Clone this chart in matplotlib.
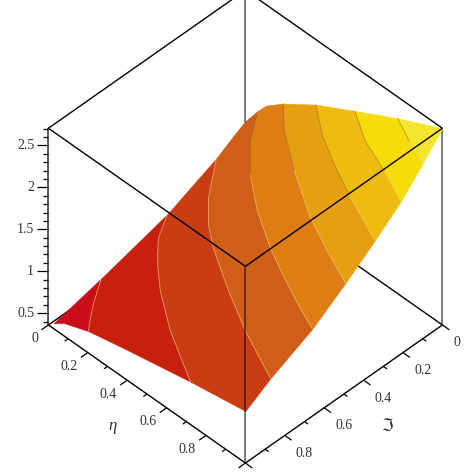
import matplotlib
matplotlib.use('Agg')
import matplotlib.pyplot as plt
from mpl_toolkits.mplot3d.art3d import Poly3DCollection

# contour levels of the surface, each line runs from the top edge to the front edge
levels = [0.62, 0.87, 1.16, 1.40, 1.67, 1.93, 2.18, 2.45]
c1_eta = [0.044, 0.114, 0.160, 0.203]
c1_im = [0.775, 0.885, 0.947, 1.0]
c2_eta = [0.055, 0.119, 0.207, 0.316, 0.487, 0.721]
c2_im = [0.451, 0.561, 0.654, 0.748, 0.868, 1.0]
c3_eta = [0.065, 0.190, 0.287, 0.383, 0.564, 0.765, 1.0]
c3_im = [0.212, 0.378, 0.475, 0.546, 0.655, 0.765, 0.873]
c4_eta = [0.072, 0.163, 0.286, 0.434, 0.601, 0.745, 0.895, 1.0]
c4_im = [0.010, 0.138, 0.261, 0.373, 0.474, 0.547, 0.616, 0.66]
c5_eta = [0.192, 0.295, 0.465, 0.663, 0.839, 1.0]
c5_im = [0.0, 0.097, 0.216, 0.338, 0.423, 0.492]
c6_eta = [0.358, 0.485, 0.624, 0.771, 1.0]
c6_im = [0.0, 0.094, 0.172, 0.243, 0.343]
c7_eta = [0.555, 0.692, 0.849, 1.0]
c7_im = [0.0, 0.083, 0.143, 0.211]
c8_eta = [0.772, 0.886, 1.0]
c8_im = [0.0, 0.054, 0.100]
contour_eta = [c1_eta, c2_eta, c3_eta, c4_eta, c5_eta, c6_eta, c7_eta, c8_eta]
contour_im = [c1_im, c2_im, c3_im, c4_im, c5_im, c6_im, c7_im, c8_im]
dark_part = [0, 0, 0, 3, 3, 4, 3, 2]

# surface corners and edge points (eta, im, z)
tip = (0.025, 1.0, 0.42)
far_corner = (1.0, 0.0, 2.705)
low_edge = [[(0.076, 1.0, 0.509)], [(0.381, 1.0, 0.711)], [(1.0, 1.0, 0.979)],
            [], [], [], [], [], []]
top_edge = [[], [], [], [(0.047, 0.047, 1.30), (0.057, 0.123, 1.25)],
            [(0.104, 0.0, 1.50)], [], [], [], []]

band_colors = ['#c80f1a', '#c7200f', '#c93d12', '#cf5f16', '#de7d14',
               '#e69f10', '#eebc10', '#f6dc08', '#f3e62c']

z_bottom = 0.36
z_top = 2.705
z_major = [0.5, 1, 1.5, 2, 2.5]
z_major_labels = ['0.5', '1', '1.5', '2', '2.5']
z_minor = [0.4, 0.6, 0.7, 0.8, 0.9, 1.1, 1.2, 1.3, 1.4, 1.6, 1.7, 1.8, 1.9,
           2.1, 2.2, 2.3, 2.4, 2.6, 2.7]
h_major = [0, 0.2, 0.4, 0.6, 0.8, 1]
h_major_labels = ['0', '0.2', '0.4', '0.6', '0.8', '']
h_minor = [0.1, 0.3, 0.5, 0.7, 0.9]

serif = 'Liberation Serif'

fig = plt.figure(figsize=(4.74, 4.74), dpi=100)
ax = fig.add_axes([2 / 474, 4 / 474, 1, 1], projection='3d',
                  proj_type='ortho', computed_zorder=False)
ax.view_init(elev=44.5, azim=45)
ax.set_box_aspect((1, 1, 0.99), zoom=0.985)
ax.set_axis_off()


def contour_points(i):
    return [(e, m, levels[i]) for e, m in zip(contour_eta[i], contour_im[i])]


def line3(p, q, zo, color='black', lw=1.0, alpha=1.0):
    # x axis is im, y axis is eta
    ax.plot([p[1], q[1]], [p[0], q[0]], [p[2], q[2]], color=color, lw=lw,
            alpha=alpha, zorder=zo, solid_capstyle='butt')


def text3(eta, im, z, s, **kw):
    ax.text(im, eta, z, s, color='#333333', zorder=4, **kw)


# surface, one polygon per colour band
for k in range(len(band_colors)):
    first = [tip] if k == 0 else contour_points(k - 1)
    second = [far_corner] if k == len(levels) else contour_points(k)
    pts = first + low_edge[k] + second[::-1] + top_edge[k]
    verts = [[(p[1], p[0], p[2]) for p in pts]]
    poly = Poly3DCollection(verts, facecolors=band_colors[k],
                            edgecolors=band_colors[k], linewidths=0.3, zorder=2)
    ax.add_collection3d(poly, autolim=False)

# band outlines, dark near the top and pale towards the front
for i in range(len(levels)):
    pts = contour_points(i)
    n = dark_part[i]
    if n > 0:
        ax.plot([p[1] for p in pts[:n]], [p[0] for p in pts[:n]], [p[2] for p in pts[:n]],
                color='#8a6a20', lw=0.5, alpha=0.7, zorder=2.5)
    rest = pts[max(n - 1, 0):]
    ax.plot([p[1] for p in rest], [p[0] for p in rest], [p[2] for p in rest],
            color='#f6c878', lw=0.5, alpha=0.8, zorder=2.5)

# back of the box, hidden by the surface
line3((0, 0, z_bottom), (0, 0, z_top), 1, alpha=0.6, lw=1.2)
line3((1, 0, z_bottom), (0, 0, z_bottom), 1)
line3((0, 1, z_bottom), (0, 0, z_bottom), 1)
line3((0, 1, z_top), (0, 0, z_top), 1)
line3((1, 0, z_top), (0, 0, z_top), 1)
line3((1, 0, z_bottom), (1, 0, z_top), 1, alpha=0.6, lw=1.2)

# front of the box, drawn over the surface
line3((0, 1, z_bottom), (0, 1, z_top), 3, alpha=0.75, lw=1.2)
line3((1, 1, z_bottom), (1, 1, z_top), 3, alpha=0.6, lw=1.2)
line3((0, 1, z_top), (1, 1, z_top), 3)
line3((1, 0, z_top), (1, 1, z_top), 3)
line3((0, 1, z_bottom), (1, 1, z_bottom), 3)
line3((1, 0, z_bottom), (1, 1, z_bottom), 3)

# z ticks
for v, lab in zip(z_major, z_major_labels):
    line3((0, 1, v), (-0.028, 1.028, v), 3, lw=0.9)
    text3(-0.036, 1.036, v, lab, ha='right', va='center', family=serif, fontsize=10)
for v in z_minor:
    line3((0, 1, v), (-0.014, 1.014, v), 3, lw=0.9)

# eta ticks
for v, lab in zip(h_major, h_major_labels):
    line3((v, 1, z_bottom), (v, 1.035, z_bottom), 3, lw=0.9)
    if lab:
        text3(v + 0.025, 1.076, z_bottom, lab, ha='right', va='center', family=serif, fontsize=10)
for v in h_minor:
    line3((v, 1, z_bottom), (v, 1.018, z_bottom), 3, lw=0.9)

# im ticks
for v, lab in zip(h_major, h_major_labels):
    line3((1, v, z_bottom), (1.035, v, z_bottom), 3, lw=0.9)
    if lab:
        text3(1.093, v + 0.037, z_bottom, lab, ha='left', va='center', family=serif, fontsize=10)
for v in h_minor:
    line3((1, v, z_bottom), (1.018, v, z_bottom), 3, lw=0.9)

text3(0.528, 1.204, z_bottom, '\u03b7', ha='center', va='center', family=serif,
      style='italic', fontsize=12)
text3(1.226, 0.506, z_bottom, '\u2111', ha='center', va='center', family='DejaVu Sans',
      fontsize=12, rotation=-20)

ax.set_xlim(0, 1, view_margin=0)
ax.set_ylim(0, 1, view_margin=0)
ax.set_zlim(z_bottom, z_top, view_margin=0)

fig.savefig('out.png', dpi=100)
